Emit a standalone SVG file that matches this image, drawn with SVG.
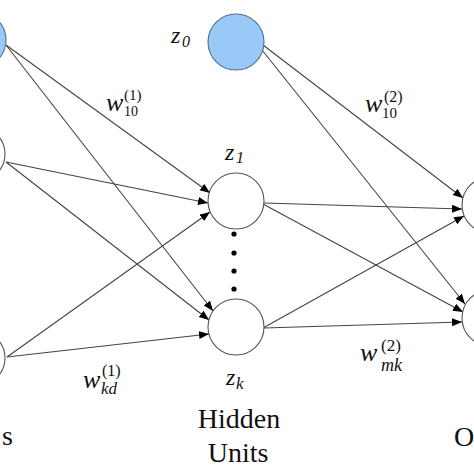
<svg xmlns="http://www.w3.org/2000/svg" width="474" height="474" viewBox="0 0 474 474">
<defs>
<marker id="arr" markerUnits="userSpaceOnUse" markerWidth="11" markerHeight="9" refX="10" refY="4" orient="auto">
<path d="M0,0 L10,4 L0,8 z" fill="#000"/>
</marker>
<style>
.node{fill:#fff;stroke:#555;stroke-width:1.1}
.bias{fill:#99c9f7;stroke:#4f6f96;stroke-width:1.1}
.edge{stroke:#444;stroke-width:1.1;fill:none;marker-end:url(#arr)}
.it{font-style:italic;fill:#111}
.rm{fill:#111}
</style>
</defs>
<rect width="474" height="474" fill="#fff"/>
<g id="connectors">
<path class="edge" d="M6,45 L210,193"/>
<path class="edge" d="M6,45 L213,311"/>
<path class="edge" d="M6,162 L208,203"/>
<path class="edge" d="M6,162 L209,320"/>
<path class="edge" d="M7,357 L210,212"/>
<path class="edge" d="M7,357 L209,334"/>
<path class="edge" d="M263,45 L463,198"/>
<path class="edge" d="M262,50 L465,304"/>
<path class="edge" d="M264,203 L462,209"/>
<path class="edge" d="M263,204 L463,312"/>
<path class="edge" d="M263,328 L464,216"/>
<path class="edge" d="M264,328 L462,322"/>
</g>
<g id="x0"><circle class="bias" cx="-22" cy="40" r="28"/></g>
<g id="x1"><circle class="node" cx="-22" cy="154" r="27"/></g>
<g id="xd"><circle class="node" cx="-22" cy="358" r="27"/></g>
<g font-family="Liberation Serif, Times New Roman, serif">
<g id="z0">
<circle class="bias" cx="236" cy="42" r="28"/>
<text class="it" x="171" y="43" font-size="24">z</text><text class="it" x="182" y="47" font-size="16">0</text>
</g>
<g id="z1">
<circle class="node" cx="236" cy="201" r="28"/>
<text class="it" x="225" y="160" font-size="24">z</text><text class="it" x="236" y="163" font-size="16">1</text>
</g>
<g id="dots" fill="#000">
<circle cx="234" cy="234" r="2.6"/>
<circle cx="234" cy="253" r="2.6"/>
<circle cx="234" cy="271" r="2.6"/>
<circle cx="234" cy="289" r="2.6"/>
</g>
<g id="zk">
<circle class="node" cx="236" cy="327" r="28"/>
<text class="it" x="226" y="385" font-size="24">z</text><text class="it" x="236" y="389" font-size="17">k</text>
</g>
<g id="y1"><circle class="node" cx="490" cy="205" r="28"/></g>
<g id="y2"><circle class="node" cx="490" cy="318" r="28"/></g>
<g id="labels">
<text class="it" x="106" y="111" font-size="26">w</text>
<text class="rm" x="124" y="100" font-size="15">(1)</text>
<text class="rm" x="124" y="116" font-size="14">10</text>
<text class="it" x="365" y="112" font-size="26">w</text>
<text class="rm" x="384" y="102" font-size="16">(2)</text>
<text class="rm" x="382" y="118" font-size="15">10</text>
<text class="it" x="83" y="388" font-size="26">w</text>
<text class="rm" x="102" y="376" font-size="16">(1)</text>
<text class="it" x="101" y="394" font-size="17">kd</text>
<text class="it" x="360" y="361" font-size="26">w</text>
<text class="rm" x="381" y="351" font-size="17">(2)</text>
<text class="it" x="381" y="371" font-size="18">mk</text>
<text class="rm" x="239" y="428" font-size="28" text-anchor="middle">Hidden</text>
<text class="rm" x="238" y="462" font-size="28" text-anchor="middle">Units</text>
<text class="rm" x="2" y="445" font-size="28">s</text>
<text class="rm" x="454" y="446" font-size="28">O</text>
</g>
</g>
</svg>
